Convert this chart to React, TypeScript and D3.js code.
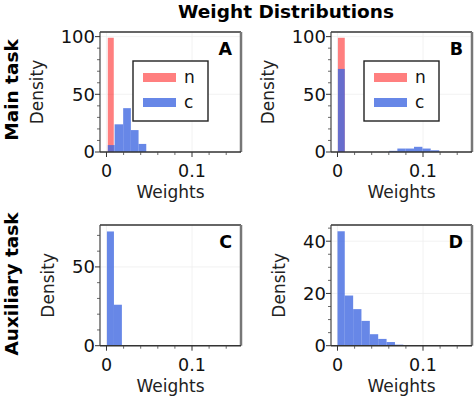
import React from 'react'
import * as d3 from 'd3'

// x axis (shared by all panels)
const weightTicks = [0, 0.1]
const weightTickLabels = ['0', '0.1']
const weightMinorTicks = [0.02, 0.04, 0.06, 0.08, 0.12, 0.14]

// Main task, panel A
const mainANEdges = [0.0015, 0.0085]
const mainANDensity = [99]
const mainACEdges = [0.0015, 0.0095, 0.0195, 0.0285, 0.0375, 0.0465]
const mainACDensity = [6, 24, 38, 19, 7]

// Main task, panel B
const mainBNEdges = [0.0005, 0.0085]
const mainBNDensity = [99]
const mainBCEdges = [0.0005, 0.0085, 0.0605, 0.07, 0.0797, 0.0895, 0.0993, 0.109, 0.119]
const mainBCDensity = [72, 0, 1, 3, 3, 4.5, 3, 1.5]

// Auxiliary task, panel C
const auxCCEdges = [0.0005, 0.0087, 0.018]
const auxCCDensity = [72.5, 26]

// Auxiliary task, panel D
const auxDCEdges = [0.0, 0.0085, 0.0183, 0.028, 0.0378, 0.0476, 0.0574, 0.0672, 0.077]
const auxDCDensity = [43.8, 19.2, 14, 9.5, 4.4, 2.6, 1.4, 0.4]

// y ticks
const mainYTicks = [0, 50, 100]
const mainYMinor = [10, 20, 30, 40, 60, 70, 80, 90]
const auxCYTicks = [0, 50]
const auxCYMinor = [10, 20, 30, 40, 60, 70]
const auxDYTicks = [0, 20, 40]
const auxDYMinor = [5, 10, 15, 25, 30, 35, 45]

const legendLabels = ['n', 'c']

const FONT = "'DejaVu Sans', sans-serif"
const RED = '#ff0000'
const BLUE = '#4169e1'

type Hist = { edges: number[]; density: number[]; color: string; opacity: number }

function Panel(props: {
  x: number
  y: number
  w: number
  h: number
  yMax: number
  yTicks: number[]
  yMinor: number[]
  hists: Hist[]
  letter: string
  legend?: boolean
}) {
  const { x, y, w, h, yMax, yTicks, yMinor, hists, letter, legend } = props
  const xScale = d3.scaleLinear().domain([-0.0076, 0.1573]).range([x, x + w])
  const yScale = d3.scaleLinear().domain([0, yMax]).range([y + h, y])
  const bottom = y + h

  return (
    <g>
      {/* faint grid */}
      {weightTicks.map((t, i) => (
        <line key={'gx' + i} x1={xScale(t)} x2={xScale(t)} y1={y} y2={bottom} stroke="#efefef" strokeWidth={0.8} />
      ))}
      {yTicks.map((t, i) => (
        <line key={'gy' + i} x1={x} x2={x + w} y1={yScale(t)} y2={yScale(t)} stroke="#efefef" strokeWidth={0.8} />
      ))}

      {/* histograms */}
      {hists.map((hst, hi) =>
        hst.density.map((d, i) =>
          d > 0 ? (
            <rect
              key={`h${hi}-${i}`}
              x={xScale(hst.edges[i])}
              y={yScale(d)}
              width={xScale(hst.edges[i + 1]) - xScale(hst.edges[i])}
              height={bottom - yScale(d)}
              fill={hst.color}
              fillOpacity={hst.opacity}
            />
          ) : null
        )
      )}

      {/* frame */}
      <line x1={x} x2={x + w} y1={y} y2={y} stroke="#333" strokeWidth={1.5} />
      <line x1={x + w} x2={x + w} y1={y} y2={bottom} stroke="#777" strokeWidth={2.5} />
      <line x1={x} x2={x} y1={y} y2={bottom} stroke="#444" strokeWidth={1.2} />
      <line x1={x} x2={x + w} y1={bottom} y2={bottom} stroke="#333" strokeWidth={1.5} />

      {/* y ticks */}
      {yTicks.map((t, i) => (
        <g key={'yt' + i}>
          <line x1={x - 5} x2={x} y1={yScale(t)} y2={yScale(t)} stroke="#333" strokeWidth={1} />
          <text x={x - 5} y={yScale(t)} dy="0.36em" textAnchor="end" fontSize={18} fontFamily={FONT} fill="#111">
            {t}
          </text>
        </g>
      ))}
      {yMinor.map((t, i) => (
        <line key={'ym' + i} x1={x - 3} x2={x} y1={yScale(t)} y2={yScale(t)} stroke="#444" strokeWidth={0.8} />
      ))}

      {/* x ticks */}
      {weightTicks.map((t, i) => (
        <g key={'xt' + i}>
          <line x1={xScale(t)} x2={xScale(t)} y1={bottom} y2={bottom + 5} stroke="#333" strokeWidth={1} />
          <text x={xScale(t)} y={bottom + 25} textAnchor="middle" fontSize={17.5} fontFamily={FONT} fill="#111">
            {weightTickLabels[i]}
          </text>
        </g>
      ))}
      {weightMinorTicks.map((t, i) => (
        <line key={'xm' + i} x1={xScale(t)} x2={xScale(t)} y1={bottom} y2={bottom + 3} stroke="#444" strokeWidth={0.8} />
      ))}

      {/* axis labels */}
      <text x={x + w / 2} y={bottom + 46} textAnchor="middle" fontSize={17} fontFamily={FONT} fill="#222">
        Weights
      </text>
      <text
        transform={`translate(${x - (yMax > 80 ? 57.5 : 46.5)},${y + h / 2}) rotate(-90)`}
        textAnchor="middle"
        fontSize={17}
        fontFamily={FONT}
        fill="#222"
      >
        Density
      </text>

      {/* panel letter */}
      <text x={x + w - 9} y={y + 23} textAnchor="end" fontSize={17.5} fontWeight="bold" fontFamily={FONT} fill="#000">
        {letter}
      </text>

      {legend && (
        <g transform={`translate(${x + 33},${y + 29})`}>
          <rect x={0} y={0} width={75} height={60} fill="#fff" stroke="#222" strokeWidth={1.4} />
          {[RED, BLUE].map((c, i) => (
            <g key={'lg' + i}>
              <rect
                x={10}
                y={12 + i * 25}
                width={33}
                height={9}
                fill={c}
                fillOpacity={i === 0 ? 0.5 : 0.8}
              />
              <text x={51} y={22 + i * 25} fontSize={17} fontFamily={FONT} fill="#111">
                {legendLabels[i]}
              </text>
            </g>
          ))}
        </g>
      )}
    </g>
  )
}

export default function App() {
  return (
    <svg width={474} height={399} style={{ position: 'absolute', left: 0, top: 0, background: '#fff' }}>
      <rect width={474} height={399} fill="#fff" />
      <text x={286} y={17.5} textAnchor="middle" fontSize={18.5} fontWeight="bold" fontFamily={FONT} fill="#000">
        Weight Distributions
      </text>
      <text transform="translate(17.5,90) rotate(-90)" textAnchor="middle" fontSize={18.5} fontWeight="bold" fontFamily={FONT} fill="#000">
        Main task
      </text>
      <text transform="translate(17.5,284) rotate(-90)" textAnchor="middle" fontSize={18.5} fontWeight="bold" fontFamily={FONT} fill="#000">
        Auxiliary task
      </text>

      <Panel
        x={100}
        y={32}
        w={141}
        h={120}
        yMax={104}
        yTicks={mainYTicks}
        yMinor={mainYMinor}
        letter="A"
        legend
        hists={[
          { edges: mainANEdges, density: mainANDensity, color: RED, opacity: 0.5 },
          { edges: mainACEdges, density: mainACDensity, color: BLUE, opacity: 0.8 },
        ]}
      />
      <Panel
        x={331}
        y={32}
        w={141}
        h={120}
        yMax={104}
        yTicks={mainYTicks}
        yMinor={mainYMinor}
        letter="B"
        legend
        hists={[
          { edges: mainBNEdges, density: mainBNDensity, color: RED, opacity: 0.5 },
          { edges: mainBCEdges, density: mainBCDensity, color: BLUE, opacity: 0.8 },
        ]}
      />
      <Panel
        x={100}
        y={225}
        w={141}
        h={120.7}
        yMax={76.6}
        yTicks={auxCYTicks}
        yMinor={auxCYMinor}
        letter="C"
        hists={[{ edges: auxCCEdges, density: auxCCDensity, color: BLUE, opacity: 0.8 }]}
      />
      <Panel
        x={331}
        y={225}
        w={141}
        h={120.7}
        yMax={46.2}
        yTicks={auxDYTicks}
        yMinor={auxDYMinor}
        letter="D"
        hists={[{ edges: auxDCEdges, density: auxDCDensity, color: BLUE, opacity: 0.8 }]}
      />
    </svg>
  )
}
